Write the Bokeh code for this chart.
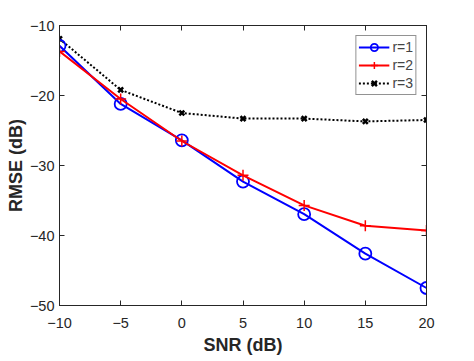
from bokeh.plotting import figure
from bokeh.models import LinearAxis, FixedTicker, Range1d
from bokeh.embed import file_html
from bokeh.resources import INLINE

snr = [-10, -5, 0, 5, 10, 15, 20]
r1 = [-12.9, -21.2, -26.4, -32.3, -36.95, -42.6, -47.5]
r2 = [-13.7, -20.5, -26.5, -31.4, -35.7, -38.6, -39.3]
r3 = [-11.9, -19.2, -22.5, -23.3, -23.3, -23.7, -23.5]
x_ticks = [-10, -5, 0, 5, 10, 15, 20]
y_ticks = [-50, -40, -30, -20, -10]

FONT = "Liberation Sans"
AX = "#262626"

p = figure(frame_width=367, frame_height=280, output_backend="svg", toolbar_location=None,
           x_range=Range1d(-10, 20), y_range=Range1d(-50, -10),
           min_border_left=59, min_border_top=25, min_border_bottom=47, min_border_right=30)
p.background_fill_color = "white"
p.border_fill_color = "white"
p.outline_line_color = AX
p.outline_line_width = 1
p.xgrid.visible = False
p.ygrid.visible = False

def style_axis(ax, ticks, show_labels=True):
    ax.ticker = FixedTicker(ticks=ticks)
    ax.major_tick_in = 5
    ax.major_tick_out = 0
    ax.minor_tick_line_color = None
    ax.axis_line_color = AX
    ax.major_tick_line_color = AX
    ax.major_label_text_font = FONT
    ax.major_label_text_font_size = "14.5px"
    ax.major_label_text_color = "#262626"
    ax.axis_label_text_font = FONT
    ax.axis_label_text_font_size = "18px"
    ax.axis_label_text_font_style = "bold"
    ax.axis_label_text_color = "#262626"
    if not show_labels:
        ax.major_label_overrides = {t: "" for t in ticks}
        ax.major_label_standoff = 0

style_axis(p.xaxis[0], x_ticks)
style_axis(p.yaxis[0], y_ticks)
p.xaxis[0].axis_label = "SNR (dB)"
p.yaxis[0].axis_label = "RMSE (dB)"
p.xaxis[0].major_label_standoff = 12
p.yaxis[0].major_label_standoff = 5
p.xaxis[0].axis_label_standoff = 4
p.yaxis[0].axis_label_standoff = 1

top = LinearAxis()
style_axis(top, x_ticks, False)
p.add_layout(top, "above")
right = LinearAxis()
style_axis(right, y_ticks, False)
p.add_layout(right, "right")

p.line(snr, r3, color="black", line_width=2, line_dash="2 2", legend_label="r=3")
p.scatter(snr, r3, marker="x", size=7, color="black", line_width=2.5, legend_label="r=3")
p.line(snr, r1, color="#0000ff", line_width=2, legend_label="r=1")
p.scatter(snr, r1, marker="circle", size=12, fill_color=None, line_color="#0000ff", line_width=1.8, legend_label="r=1")
p.line(snr, r2, color="#ff0000", line_width=2, legend_label="r=2")
p.scatter(snr, r2, marker="cross", size=11, color="#ff0000", line_width=1.5, legend_label="r=2")

lg = p.legend[0]
items = {it.label.value: it for it in lg.items}
lg.items = [items["r=1"], items["r=2"], items["r=3"]]
lg.location = "top_right"
lg.margin = 10
lg.padding = 2
lg.spacing = 0
lg.glyph_width = 31
lg.glyph_height = 18
lg.label_width = 10
lg.label_height = 18
lg.label_text_font = FONT
lg.label_text_font_size = "14px"
lg.label_standoff = 3
lg.border_line_color = "#262626"
lg.border_line_width = 1
lg.background_fill_alpha = 1

open("out.html", "w").write(file_html(p, INLINE))
